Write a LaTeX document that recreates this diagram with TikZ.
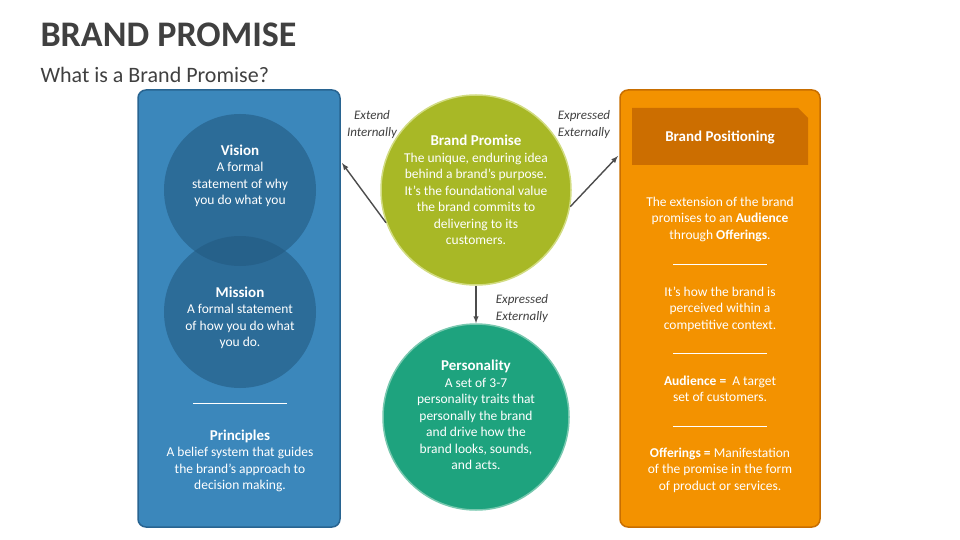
\documentclass[tikz,border=0pt]{standalone}
\usepackage{fontspec}
\setmainfont{Carlito}
\definecolor{lblue}{RGB}{59,135,187}
\definecolor{lbluedk}{RGB}{40,100,145}
\definecolor{ovl}{RGB}{35,90,130}
\definecolor{orng}{RGB}{243,146,0}
\definecolor{orngdk}{RGB}{200,110,0}
\definecolor{tab}{RGB}{204,110,0}
\definecolor{olive}{RGB}{168,184,38}
\definecolor{olivebd}{RGB}{210,220,130}
\definecolor{teal2}{RGB}{30,163,126}
\definecolor{tealbd}{RGB}{120,200,175}
\begin{document}
\begin{tikzpicture}[x=1pt,y=-1pt,
  body/.style={align=center,text=white,font=\fontsize{13.5}{16.5}\selectfont},
  lbl/.style={align=center,text=black!75,font=\fontsize{13}{17}\selectfont\itshape},
  arr/.style={draw=black!70,line width=1.4pt,-latex},
  sep/.style={draw=white,line width=1pt}]
\useasboundingbox (0,0) rectangle (960,540);
\node[anchor=west,text=black!75,font=\fontsize{36}{38}\selectfont\bfseries] (title) at (37,35) {BRAND PROMISE};
\node[anchor=west,text=black!75,font=\fontsize{22}{24}\selectfont] (sub) at (37,75) {What is a Brand Promise?};
% left panel
\draw[fill=lblue,draw=lbluedk,line width=1.5pt,rounded corners=8pt] (138,90) rectangle (340,527);
\fill[ovl,opacity=0.6] (240,190) circle (76);
\fill[ovl,opacity=0.6] (240,312) circle (76);
\node[body] (vision) at (240,176) {\textbf{\fontsize{15}{17}\selectfont Vision}\\A formal\\statement of why\\you do what you};
\node[body] (mission) at (240,318) {\textbf{\fontsize{15}{17}\selectfont Mission}\\A formal statement\\of how you do what\\you do.};
\draw[sep] (193,403) -- (287,403);
\node[body] (princ) at (240,461) {\textbf{\fontsize{15}{17}\selectfont Principles}\\A belief system that guides\\the brand's approach to\\decision making.};
% right panel
\draw[fill=orng,draw=orngdk,line width=1.5pt,rounded corners=8pt] (620,90) rectangle (820,527);
\fill[tab] (632,108) -- (798,108) -- (808,118) -- (808,165) -- (632,165) -- cycle;
\node[body,font=\fontsize{15}{17}\selectfont\bfseries] (pos) at (720,137) {Brand Positioning};
\node[body] (r1) at (720,219) {The extension of the brand\\promises to an \textbf{Audience}\\through \textbf{Offerings}.};
\draw[sep] (673,264) -- (767,264);
\node[body] (r2) at (720,309) {It's how the brand is\\perceived within a\\competitive context.};
\draw[sep] (673,353) -- (767,353);
\node[body] (r3) at (720,389) {\textbf{Audience =}\ \ A target\\set of customers.};
\draw[sep] (673,426) -- (767,426);
\node[body] (r4) at (720,470) {\textbf{Offerings =} Manifestation\\of the promise in the form\\of product or services.};
% circles
\node[circle,minimum size=190pt,fill=olive,draw=olivebd,line width=1.5pt] (bp) at (476,190) {};
\node[body] (bpt) at (476,190) {\textbf{\fontsize{15}{17}\selectfont Brand Promise}\\The unique, enduring idea\\behind a brand's purpose.\\It's the foundational value\\the brand commits to\\delivering to its\\customers.};
\node[circle,minimum size=186pt,fill=teal2,draw=tealbd,line width=1.5pt] (pers) at (476,417) {};
\node[body] (perst) at (476,415) {\textbf{\fontsize{15}{17}\selectfont Personality}\\A set of 3-7\\personality traits that\\personally the brand\\and drive how the\\brand looks, sounds,\\and acts.};
\coordinate (lt) at (342,163);
\coordinate (rt) at (618,156);
\draw[arr] (bp.200) -- (lt);
\draw[arr] (bp.-10) -- (rt);
\draw[arr] (bp.south) -- (pers.north);
\node[lbl] (l1) at (372,125) {Extend\\Internally};
\node[lbl] (l2) at (584,125) {Expressed\\Externally};
\node[lbl] (l3) at (522,309) {Expressed\\Externally};
\end{tikzpicture}
\end{document}
